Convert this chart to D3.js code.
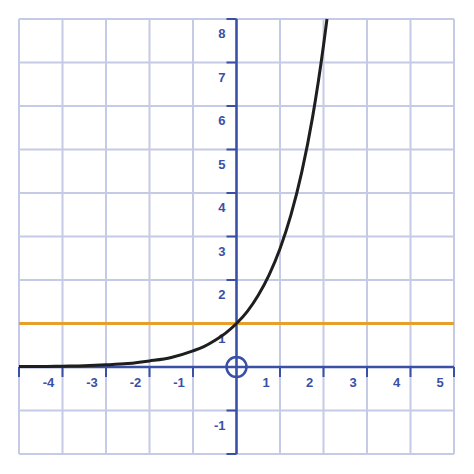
<!DOCTYPE html>
<html><head><meta charset="utf-8">
<script src="https://cdn.jsdelivr.net/npm/d3@7"></script>
<style>body{margin:0;background:#fff}</style>
</head><body><div id="chart"></div>
<script>
// points
const curveX = [-5, -4.5, -4, -3.5, -3, -2.5, -2, -1.5, -1, -0.75, -0.5, -0.25, 0, 0.25, 0.5, 0.75, 1, 1.25, 1.5, 1.75, 2, 2.08];
const curveY = [0.01, 0.01, 0.02, 0.03, 0.05, 0.08, 0.14, 0.22, 0.37, 0.47, 0.61, 0.78, 1, 1.28, 1.65, 2.12, 2.72, 3.49, 4.48, 5.75, 7.39, 8];
const hLineY = 1;
const xTicks = [-4, -3, -2, -1, 1, 2, 3, 4, 5];
const yTicks = [-1, 1, 2, 3, 4, 5, 6, 7, 8];

const W = 474, H = 474;
const svg = d3.select("#chart").append("svg").attr("width", W).attr("height", H);
const x = d3.scaleLinear().domain([-5, 5]).range([19, 454]);
const y = d3.scaleLinear().domain([-2, 8]).range([454, 19]);
const blue = "#3a4fa6", grid = "#c5cae6";

// grid
const g = svg.append("g");
d3.range(-5, 6).forEach(v => g.append("line").attr("x1", x(v)).attr("x2", x(v)).attr("y1", y(-2)).attr("y2", y(8)).attr("stroke", grid).attr("stroke-width", 2));
d3.range(-2, 9).forEach(v => g.append("line").attr("y1", y(v)).attr("y2", y(v)).attr("x1", x(-5)).attr("x2", x(5)).attr("stroke", grid).attr("stroke-width", 2));

// axes
svg.append("line").attr("x1", x(-5)).attr("x2", x(5)).attr("y1", y(0)).attr("y2", y(0)).attr("stroke", blue).attr("stroke-width", 2.5);
svg.append("line").attr("x1", x(0)).attr("x2", x(0)).attr("y1", y(-2)).attr("y2", y(8)).attr("stroke", blue).attr("stroke-width", 2.5);
d3.range(-5, 6).filter(v => v !== 0).forEach(v => svg.append("line").attr("x1", x(v)).attr("x2", x(v)).attr("y1", y(0)).attr("y2", y(0) + 10).attr("stroke", blue).attr("stroke-width", 2));
d3.range(-2, 9).filter(v => v !== 0).forEach(v => svg.append("line").attr("x1", x(0) - 10).attr("x2", x(0)).attr("y1", y(v)).attr("y2", y(v)).attr("stroke", blue).attr("stroke-width", 2));

const font = "Liberation Sans, Arial, sans-serif";
svg.selectAll(".xl").data(xTicks).join("text")
  .attr("x", d => x(d) - 14).attr("y", y(0) + 20)
  .attr("text-anchor", "middle").attr("font-family", font).attr("font-size", 13).attr("font-weight", "bold").attr("fill", blue)
  .text(d => d);
svg.selectAll(".yl").data(yTicks).join("text")
  .attr("x", x(0) - 11).attr("y", d => y(d) + 19)
  .attr("text-anchor", "end").attr("font-family", font).attr("font-size", 13).attr("font-weight", "bold").attr("fill", blue)
  .text(d => d);

svg.append("circle").attr("cx", x(0)).attr("cy", y(0)).attr("r", 10).attr("fill", "none").attr("stroke", blue).attr("stroke-width", 2.5);

// horizontal line
svg.append("line").attr("x1", x(-5)).attr("x2", x(5)).attr("y1", y(hLineY)).attr("y2", y(hLineY)).attr("stroke", "#e79f2a").attr("stroke-width", 3);

// curve
const pts = curveX.map((v, i) => [v, curveY[i]]);
svg.append("path").datum(pts)
  .attr("d", d3.line().x(d => x(d[0])).y(d => y(d[1])).curve(d3.curveMonotoneX))
  .attr("fill", "none").attr("stroke", "#1e1e1e").attr("stroke-width", 3);
</script></body></html>
